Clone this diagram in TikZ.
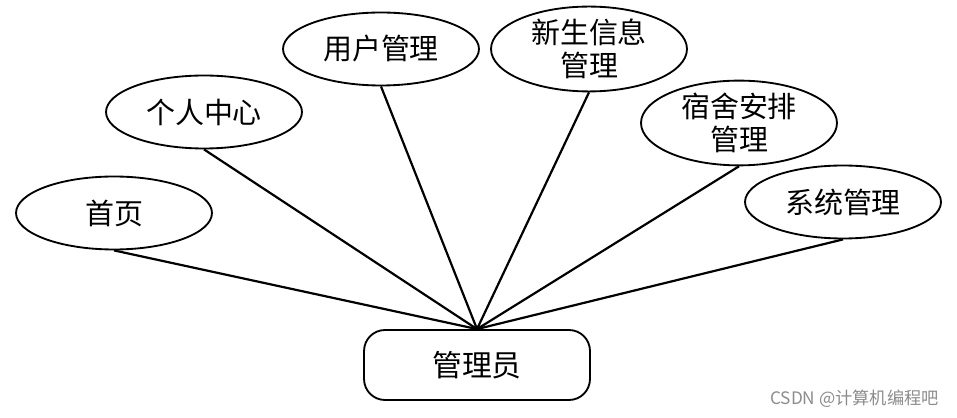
\documentclass[tikz,border=0pt]{standalone}
\usepackage{fontspec}
\setmainfont{Noto Sans CJK SC}
\usepackage{tikz}
\usetikzlibrary{shapes.geometric}

\begin{document}
\begin{tikzpicture}[x=0.02cm,y=-0.02cm,
  func/.style={draw,ellipse,line width=1.05pt,minimum width=3.92cm,minimum height=1.46cm,inner sep=0pt,align=center,font=\fontsize{16.5}{18.8}\selectfont},
  role/.style={draw,rounded corners=0.42cm,line width=1.05pt,minimum width=4.52cm,minimum height=1.4cm,font=\fontsize{17}{19}\selectfont},
  link/.style={line width=1.25pt}]
\useasboundingbox (0,0) rectangle (957,418);
\node[role] (admin) at (477,365) {管理员};
\node[func] (home) at (114,213) {首页};
\node[func] (center) at (204,112) {个人中心};
\node[func] (user) at (381,49) {用户管理};
\node[func] (fresh) at (589,49) {新生信息\\管理};
\node[func] (dorm) at (739,123) {宿舍安排\\管理};
\node[func] (sys) at (843,202) {系统管理};
\foreach \n in {home,center,user,fresh,dorm,sys}
  \draw[link] (\n.south) -- (admin.north);
\node[anchor=base east,text=black!45,font=\fontsize{9.8}{12}\selectfont] (mark) at (945,405) {CSDN @计算机编程吧};
\end{tikzpicture}
\end{document}
